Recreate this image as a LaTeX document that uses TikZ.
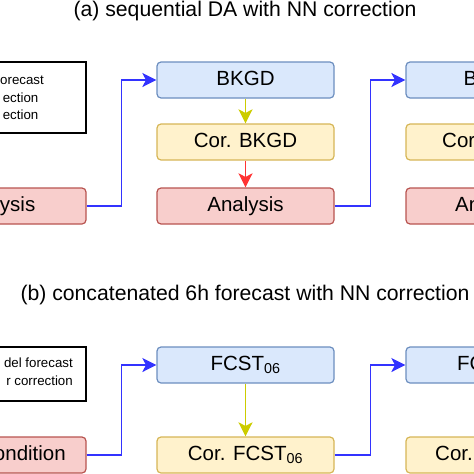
\documentclass[tikz,border=0pt]{standalone}
\usepackage{fontspec}
\setmainfont{Liberation Sans}
\usetikzlibrary{arrows.meta}

\definecolor{fcstfill}{HTML}{DAE8FC}
\definecolor{fcstline}{HTML}{6C8EBF}
\definecolor{corrfill}{HTML}{FFF2CC}
\definecolor{corrline}{HTML}{D6B656}
\definecolor{anafill}{HTML}{F8CECC}
\definecolor{analine}{HTML}{B85450}
\definecolor{modelblue}{HTML}{3333FF}
\definecolor{nnyellow}{HTML}{CCCC00}
\definecolor{dared}{HTML}{FF3333}

\begin{document}
\begin{tikzpicture}[x=1pt, y=-1pt,
  box/.style={draw, rounded corners=4pt, line width=1.2pt, minimum width=177pt, minimum height=36pt, inner sep=0pt,
    font=\fontsize{20.5}{24}\selectfont, text height=15.4pt, text depth=5.1pt},
  fcstbox/.style={box, fill=fcstfill, draw=fcstline},
  corrbox/.style={box, fill=corrfill, draw=corrline},
  anabox/.style={box, fill=anafill, draw=analine},
  boxtext/.style={inner sep=0pt, font=\fontsize{20.5}{24}\selectfont},
  legtext/.style={inner sep=0pt, font=\fontsize{13.3}{16}\selectfont},
  title/.style={inner sep=0pt, font=\fontsize{21.2}{25}\selectfont},
  flow/.style={line width=1.6pt, -{Stealth[length=14pt, width=14pt, inset=3.5pt]}},
  ]

\useasboundingbox (0, 0) rectangle (474, 474);
\clip (0, 0) rectangle (474, 474);

% Panel (a): sequential DA
\node[title, anchor=base] (titlea) at (245, 16) {(a) sequential DA with NN correction};

% Legend box, cut off at the left
\node[draw, line width=1.2pt, minimum width=186pt, minimum height=71pt, inner sep=0pt] (lega) at (-7, 97.5) {};
\node[legtext, anchor=base east] (lega1) at (44, 84) {orecast};
\node[legtext, anchor=base east] (lega2) at (38.5, 102) {ection};
\node[legtext, anchor=base east] (lega3) at (38.5, 119) {ection};

% Boxes of the middle column
\node[fcstbox] (bkgd) at (245.5, 80) {BKGD};
\node[corrbox] (corbkgd) at (245.5, 142) {Cor. BKGD};
\node[anabox] (ana) at (245.5, 206) {Analysis};

% Boxes cut off at the edges
\node[anabox] (ana0) at (-2.5, 206) {};
\node[boxtext, anchor=base east] (ana0t) at (35.5, 211.1) {ysis};
\node[fcstbox] (bkgd2) at (494.5, 80) {};
\node[boxtext, anchor=base west] (bkgd2t) at (463.5, 85.1) {B};
\node[corrbox] (corbkgd2) at (494.5, 142) {};
\node[boxtext, anchor=base west] (corbkgd2t) at (442, 147.1) {Cor};
\node[anabox] (ana2) at (494.5, 206) {};
\node[boxtext, anchor=base west] (ana2t) at (455, 211.1) {An};

% Model forecast, NN correction, DA correction
\draw[flow, modelblue] (ana0.east) -- ++(35, 0) |- (bkgd.west);
\draw[flow, modelblue] (ana.east) -- ++(36, 0) |- (bkgd2.west);
\draw[flow, nnyellow] (bkgd) -- (corbkgd);
\draw[flow, dared] (corbkgd) -- (ana);

% Panel (b): concatenated forecast
\node[title, anchor=base] (titleb) at (245, 300) {(b) concatenated 6h forecast with NN correction};

\node[draw, line width=1.2pt, minimum width=186pt, minimum height=54pt, inner sep=0pt] (legb) at (-7, 374) {};
\node[legtext, anchor=base east] (legb1) at (73, 367) {del forecast};
\node[legtext, anchor=base east] (legb2) at (73, 385) {r correction};

\node[fcstbox] (fcst) at (245.5, 365) {FCST\textsubscript{06}};
\node[corrbox] (corfcst) at (245.5, 455) {Cor. FCST\textsubscript{06}};

\node[anabox] (cond) at (-2.5, 455) {};
\node[boxtext, anchor=base east] (condt) at (66, 460.1) {ondition};
\node[fcstbox] (fcst2) at (494.5, 365) {};
\node[boxtext, anchor=base west] (fcst2t) at (457, 370.1) {FC};
\node[corrbox] (corfcst2) at (494.5, 455) {};
\node[boxtext, anchor=base west] (corfcst2t) at (435, 460.1) {Cor.};

\draw[flow, modelblue] (cond.east) -- ++(35, 0) |- (fcst.west);
\draw[flow, modelblue] (corfcst.east) -- ++(36, 0) |- (fcst2.west);
\draw[flow, nnyellow] (fcst) -- (corfcst);

\end{tikzpicture}
\end{document}
